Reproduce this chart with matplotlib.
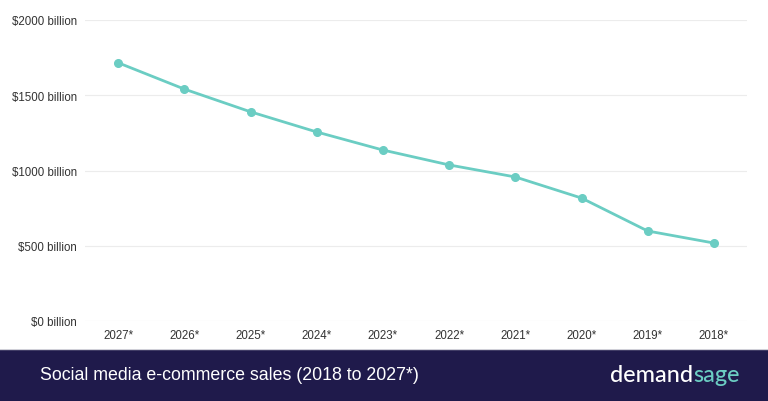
import matplotlib
matplotlib.use("Agg")
from matplotlib import pyplot as plt
from matplotlib.ticker import FuncFormatter

years = ["2027*", "2026*", "2025*", "2024*", "2023*", "2022*", "2021*", "2020*", "2019*", "2018*"]
sales = [1716, 1541, 1390, 1256, 1136, 1037, 957, 817, 598, 518]
yticks = [0, 500, 1000, 1500, 2000]

line_color = "#6bcdc3"
navy = "#1f1a4b"

plt.rcParams["font.family"] = ["Liberation Sans", "DejaVu Sans"]

fig = plt.figure(figsize=(7.68, 4.02), dpi=100)
ax = fig.add_axes([85 / 768, 80 / 402, 662 / 768, 301 / 402])

x = list(range(len(years)))
ax.plot(x, sales, color=line_color, lw=2, marker="o", ms=5.5, zorder=3)
ax.set_xlim(-0.5, len(years) - 0.5)
ax.set_ylim(0, 2000)
ax.set_yticks(yticks)
ax.yaxis.set_major_formatter(FuncFormatter(lambda v, p: f"${v:.0f} billion"))
ax.set_xticks(x)
ax.set_xticklabels(years)
ax.grid(axis="y", color="#ececec", lw=0.8)
ax.set_axisbelow(True)
for s in ax.spines.values():
    s.set_visible(False)
ax.tick_params(length=0, labelsize=8.3, colors="#333333")
ax.tick_params(axis="y", pad=6)
ax.tick_params(axis="x", pad=6)

# bottom banner
ban = fig.add_axes([0, 0, 1, 52 / 402])
ban.set_facecolor(navy)
ban.set_xticks([])
ban.set_yticks([])
for s in ban.spines.values():
    s.set_visible(False)
ban.set_xlim(0, 768)
ban.set_ylim(0, 52)
ban.axhline(52, color="#d0d0d8", lw=1)
ban.text(40, 26, "Social media e-commerce sales (2018 to 2027*)", color="white",
         fontsize=12.8, va="center", ha="left")
t1 = ban.text(610, 26, "demand", color="white", fontsize=16.8, va="center",
              ha="left", family=["Lato", "DejaVu Sans"], fontweight="medium")
ban.annotate("sage", xy=(1, 0.5), xycoords=t1, va="center", ha="left",
             color=line_color, fontsize=16.8, family=["Lato", "DejaVu Sans"],
             fontweight="medium")

fig.savefig("out.png", dpi=100)
